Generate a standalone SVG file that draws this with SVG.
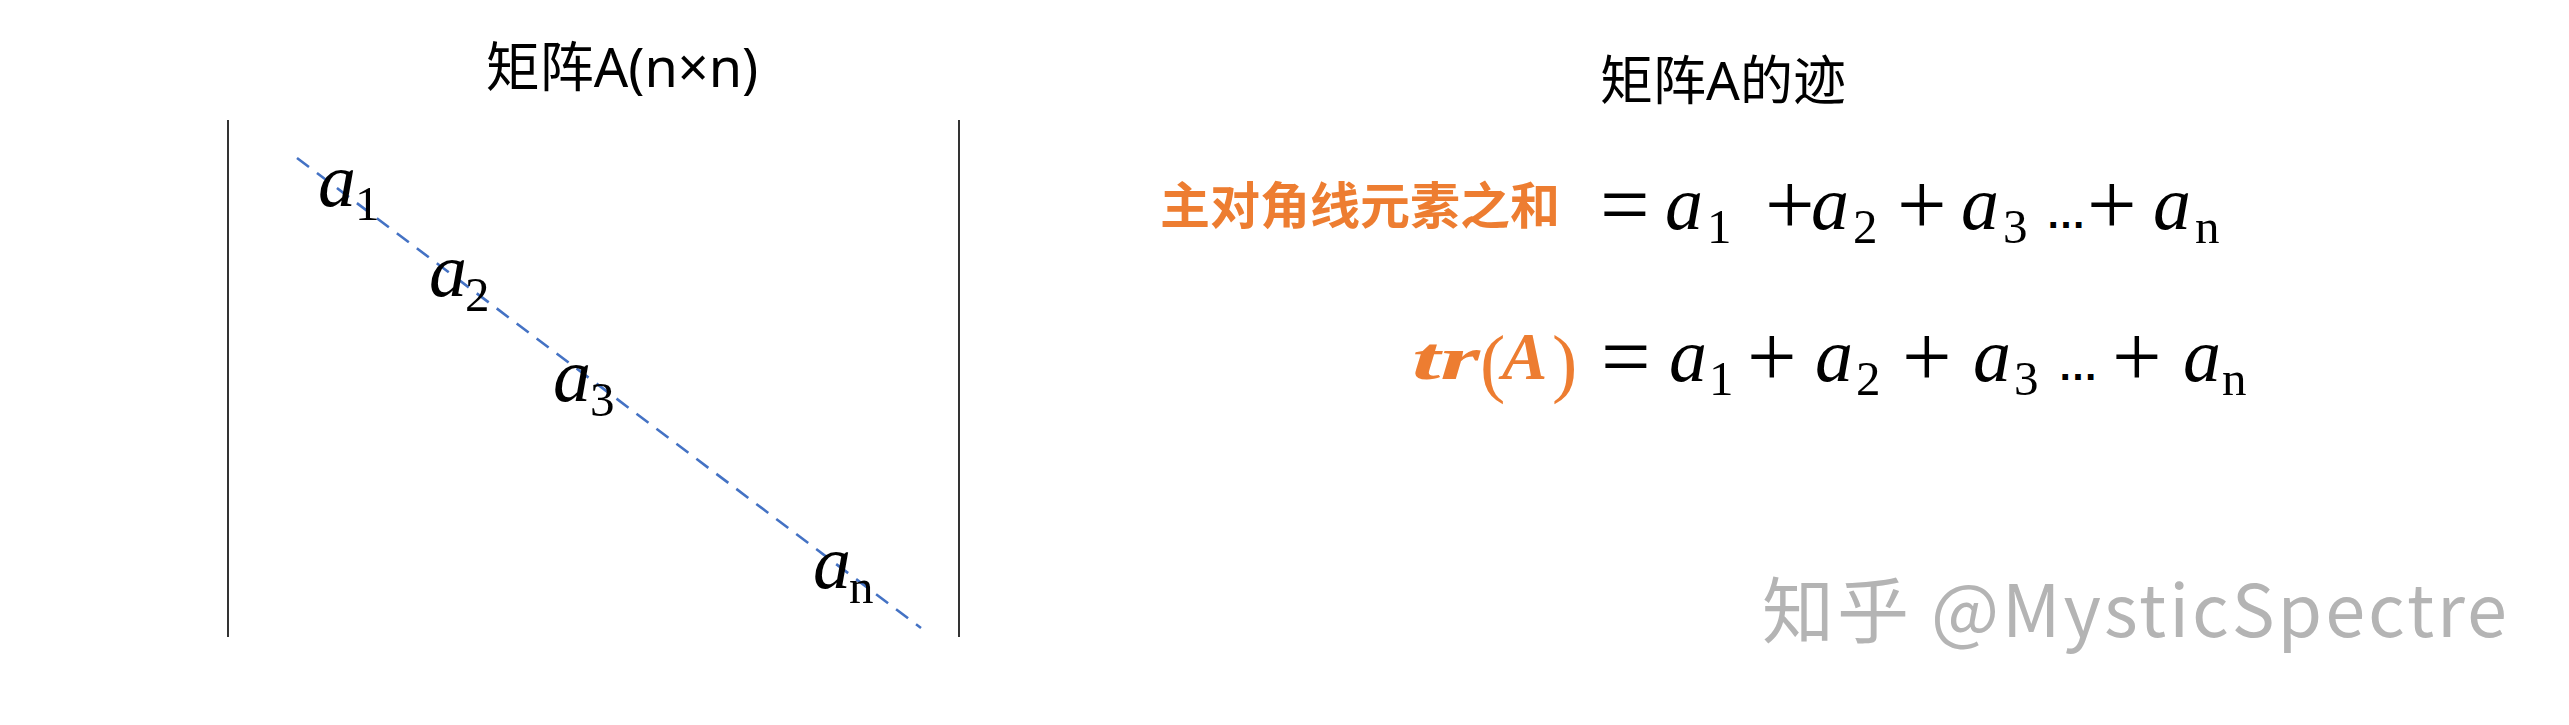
<svg xmlns="http://www.w3.org/2000/svg" width="2569" height="725" viewBox="0 0 2569 725">
<style>
.cjk{font-family:"Noto Sans","Noto Sans CJK SC",sans-serif;fill:#000}
.mi{font-family:"Liberation Serif","DejaVu Serif",serif;font-style:italic;fill:#000;font-size:76px}
.sub{font-family:"Liberation Serif","DejaVu Serif",serif;fill:#000;font-size:49px}
.mr{font-family:"Liberation Serif","DejaVu Serif",serif;fill:#000}
.op{font-family:"Liberation Serif","DejaVu Serif",serif;fill:#000;font-size:88px}
.ell{font-family:"Liberation Sans","DejaVu Sans",sans-serif;fill:#000;font-size:40px;font-weight:bold}
.frame{stroke:#000;stroke-width:1.6;fill:none}
.diag{stroke:#4472C4;stroke-width:2.6;stroke-dasharray:15 10;fill:none}
</style>
<rect width="2569" height="725" fill="#fff"/>
<g id="title-matrix"><text class="cjk" x="622" y="87" font-size="54" text-anchor="middle">矩阵A(n×n)</text></g>
<g id="matrix-frame">
<line class="frame" x1="228" y1="120" x2="228" y2="637"/>
<line class="frame" x1="959" y1="120" x2="959" y2="637"/>
</g>
<g id="connectors">
<line class="diag" x1="297" y1="158" x2="921" y2="628"/>
</g>
<g id="diag-labels">
<g id="label-a1"><text class="mi" x="318" y="206">a</text><text class="sub" x="355" y="220">1</text></g>
<g id="label-a2"><text class="mi" x="429" y="296">a</text><text class="sub" x="465" y="311">2</text></g>
<g id="label-a3"><text class="mi" x="553" y="401">a</text><text class="sub" x="590" y="416">3</text></g>
<g id="label-an"><text class="mi" x="813" y="588">a</text><text class="sub" x="849" y="603">n</text></g>
</g>
<g id="title-trace"><text class="cjk" x="1723" y="100" font-size="53" text-anchor="middle">矩阵A的迹</text></g>
<g id="eq-sum">
<text x="1160" y="224" font-size="50" font-weight="bold" font-family="'Noto Sans CJK SC',sans-serif" fill="#ED7D31">主对角线元素之和</text>
<text class="op" x="1600" y="234">=</text>
<text class="mi" x="1665" y="229">a</text><text class="sub" x="1707" y="243">1</text>
<text class="op" x="1765" y="234">+</text>
<text class="mi" x="1811" y="229">a</text><text class="sub" x="1853" y="243">2</text>
<text class="op" x="1897" y="234">+</text>
<text class="mi" x="1961" y="229">a</text><text class="sub" x="2003" y="243">3</text>
<text class="ell" x="2046" y="228">…</text>
<text class="op" x="2087" y="234">+</text>
<text class="mi" x="2153" y="229">a</text><text class="sub" x="2195" y="243">n</text>
</g>
<g id="eq-trace">
<text x="1412" y="379" font-size="62" font-weight="bold" font-style="italic" font-family="'Liberation Serif',serif" fill="#ED7D31" textLength="68" lengthAdjust="spacingAndGlyphs">tr</text>
<text x="1480" y="388" font-size="76" font-family="'Liberation Serif',serif" fill="#ED7D31">(</text>
<text x="1502" y="379" font-size="68" font-weight="bold" font-style="italic" font-family="'Liberation Serif',serif" fill="#ED7D31">A</text>
<text x="1552" y="388" font-size="76" font-family="'Liberation Serif',serif" fill="#ED7D31">)</text>
<text class="op" x="1601" y="386">=</text>
<text class="mi" x="1669" y="381">a</text><text class="sub" x="1709" y="395">1</text>
<text class="op" x="1747" y="386">+</text>
<text class="mi" x="1815" y="381">a</text><text class="sub" x="1856" y="395">2</text>
<text class="op" x="1902" y="386">+</text>
<text class="mi" x="1973" y="381">a</text><text class="sub" x="2014" y="395">3</text>
<text class="ell" x="2058" y="380">…</text>
<text class="op" x="2112" y="386">+</text>
<text class="mi" x="2183" y="381">a</text><text class="sub" x="2222" y="395">n</text>
</g>
<g id="watermark"><text x="1762" y="637" font-size="72" font-family="'Noto Sans CJK SC','Noto Sans',sans-serif" fill="#b4b4b4" textLength="745">知乎 @MysticSpectre</text></g>
</svg>
